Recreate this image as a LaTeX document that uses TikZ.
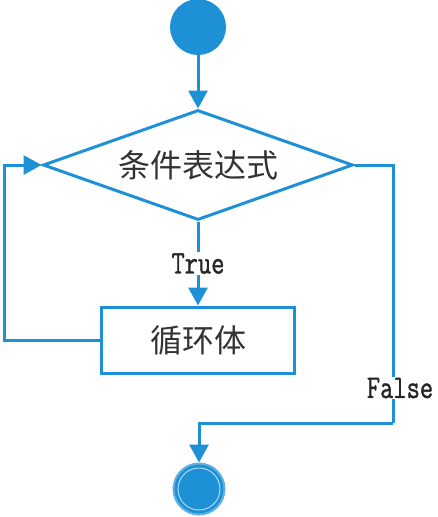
\documentclass[tikz,border=0pt]{standalone}
\usepackage{fontspec}
\newfontfamily\cjk{Noto Sans CJK SC}
\newfontfamily\codefont[FakeBold=1.2]{Latin Modern Mono}
\usepackage{tikz}
\usetikzlibrary{shapes.geometric, arrows.meta}
\definecolor{flowblue}{RGB}{30,144,214}

\begin{document}
\begin{tikzpicture}[x=1pt, y=-1pt, line width=3pt, draw=flowblue,
		>={Triangle[width=19pt, length=18pt]},
		flowlabel/.style={font=\codefont\fontsize{33}{33}\selectfont, fill=white, inner sep=1pt, xscale=0.78, text=black!85}]
		\useasboundingbox (0,0) rectangle (438,517);
		\node (start) at (198,27) [draw, shape=circle, fill=flowblue, minimum size=53pt, inner sep=0pt] {};
		\node (cond) at (198,165) [draw, shape=diamond, aspect=2.8, minimum width=310pt, minimum height=110pt, inner sep=0pt, font=\cjk\fontsize{32}{32}\selectfont, text=black!80] {条件表达式};
		\node (body) at (198,340) [draw, shape=rectangle, minimum width=193pt, minimum height=66pt, inner sep=0pt, font=\cjk\fontsize{32}{32}\selectfont, text=black!80] {循环体};
		\node (stop) at (199,489) [draw=flowblue!70, shape=circle, fill=flowblue, minimum size=51pt, inner sep=0pt, line width=2pt] {};
		\draw[flowblue!35!white, line width=1pt] (stop.center) circle (21pt);
		\coordinate (loopleft) at (4,340);
		\coordinate (falseup) at (393,165);
		\coordinate (falsedown) at (393,423);
		
		\draw[->] (start) -- (cond);
		\draw[->] (cond) -- node[flowlabel] {True} (body);
		\draw[->] (body.west) -- (loopleft) |- (cond.west);
		\draw (cond.east) -- (falseup) -- (falsedown);
		\draw[->] (falsedown) -| (stop.north);
		\node at (400,388) [flowlabel] {False};
		\end{tikzpicture}
\end{document}
